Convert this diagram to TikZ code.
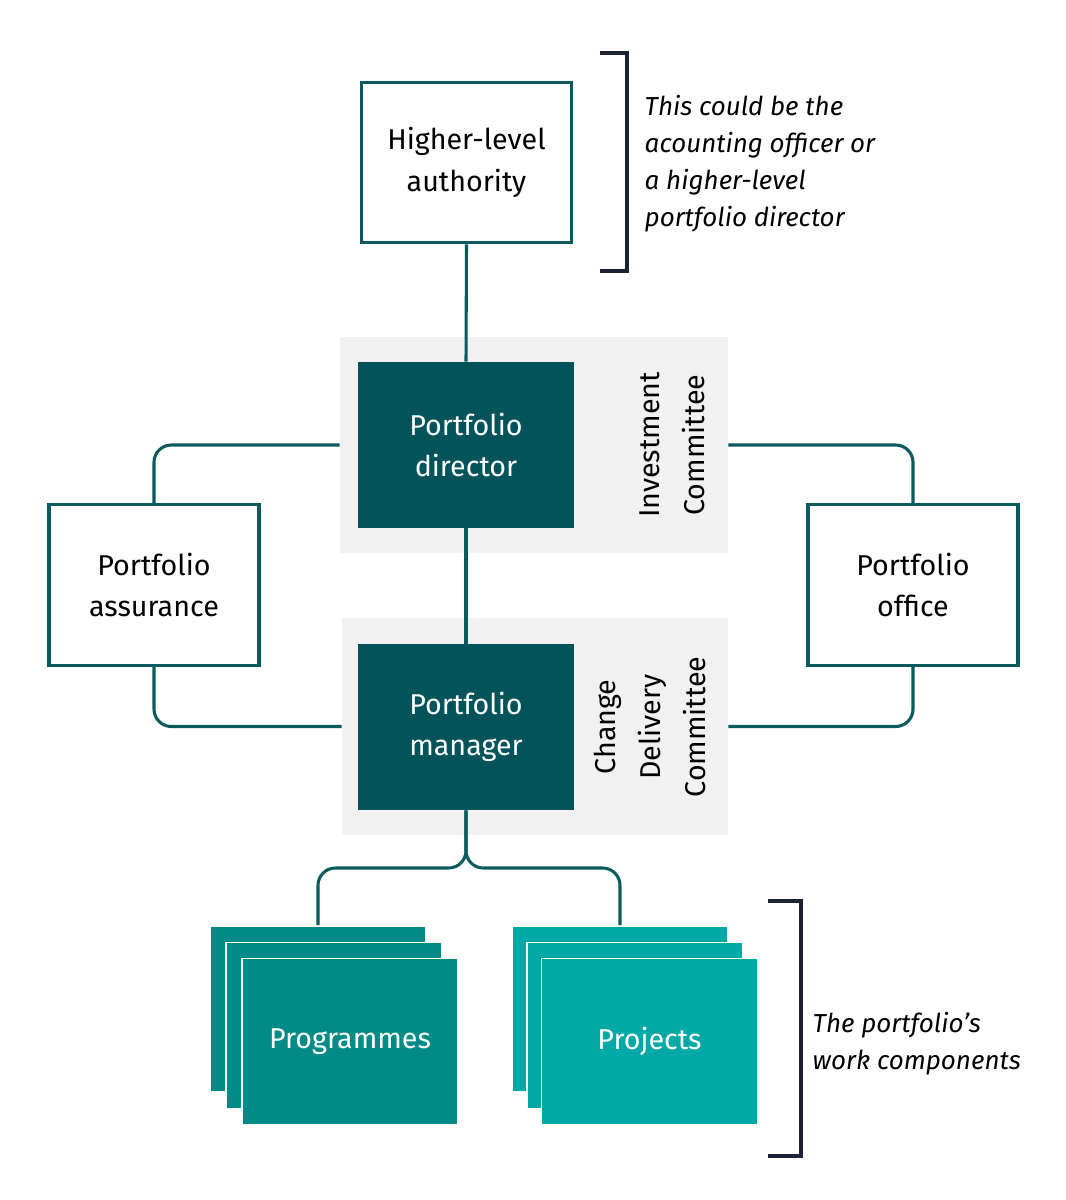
\documentclass[tikz,border=0pt]{standalone}
\usepackage{fontspec}
\setmainfont{Fira Sans}
\definecolor{edge}{HTML}{0B5A5E}
\definecolor{dark}{HTML}{03535A}
\definecolor{prog}{HTML}{018B87}
\definecolor{proj}{HTML}{00A8A6}
\definecolor{navy}{HTML}{1C2334}
\definecolor{grey}{HTML}{F1F1F1}
\begin{document}
\begin{tikzpicture}[x=0.75pt,y=-0.75pt,
  box/.style={draw=edge,line width=2.3pt,fill=white,minimum width=157.5pt,minimum height=120.5pt,inner sep=0,align=center,font=\fontsize{21.5}{31}\selectfont},
  dbox/.style={fill=dark,minimum width=162pt,minimum height=124.5pt,inner sep=0,align=center,text=white,font=\fontsize{21.5}{31}\selectfont},
  gbox/.style={fill=grey,inner sep=0},
  stack/.style={draw=white,line width=1.2pt,minimum width=162pt,minimum height=124.5pt,inner sep=0},
  conn/.style={draw=edge,line width=2.3pt,rounded corners=13pt},
  brk/.style={draw=navy,line width=3pt},
  note/.style={align=left,anchor=west,font=\fontsize{19.5}{27.7}\selectfont\itshape}]
\useasboundingbox (0,0) rectangle (1065,1200);
\node[gbox,minimum width=291pt,minimum height=162pt] (ic) at (534,445) {};
\node[gbox,minimum width=289.5pt,minimum height=163pt] (cdc) at (535,726.5) {};
\node[box] (hla) at (466.5,162.5) {Higher-level\\authority};
\node[dbox] (pd) at (466,445) {Portfolio\\director};
\node[dbox] (pm) at (466,727) {Portfolio\\manager};
\node[rotate=90,align=center,font=\fontsize{21.5}{34}\selectfont] (icl) at (672,445) {Investment\\Committee};
\node[rotate=90,align=center,font=\fontsize{21.5}{34}\selectfont] (cdl) at (650,727) {Change\\Delivery\\Committee};
\node[box] (pa) at (154,585) {Portfolio\\assurance};
\node[box] (po) at (913,585) {Portfolio\\office};
% stacks
\node[stack,fill=prog] (pg1) at (318,1009) {};
\node[stack,fill=prog] (pg2) at (334,1025.5) {};
\node[stack,fill=prog,text=white,font=\fontsize{21.5}{31}\selectfont] (pg3) at (350,1041.5) {Programmes};
\node[stack,fill=proj] (pj1) at (620,1009) {};
\node[stack,fill=proj] (pj2) at (635,1025.5) {};
\node[stack,fill=proj,text=white,font=\fontsize{21.5}{31}\selectfont] (pj3) at (649.5,1041.5) {Projects};
% connectors
\draw[conn] (hla.south) -- (pd.north);
\draw[conn] (pd.south) -- (pm.north);
\draw[conn] (pa.north) |- (ic.west);
\draw[conn] (pa.south) |- (cdc.west);
\draw[conn] (po.north) |- (ic.east);
\draw[conn] (po.south) |- (cdc.east);
\coordinate (sp) at (466,868);
\draw[conn] (pm.south) -- (sp) -| (pg1.north);
\draw[conn] (pm.south) -- (sp) -| (pj1.north);
% brackets
\coordinate (b1a) at (600,53); \coordinate (b1b) at (600,271);
\draw[brk] (b1a) -- ++(27,0) |- (b1b);
\coordinate (b2a) at (768,901); \coordinate (b2b) at (768,1156);
\draw[brk] (b2a) -- ++(33,0) |- (b2b);
\node[note] (n1) at (640,164) {This could be the\\acounting officer or\\a higher-level\\portfolio director};
\node[note] (n2) at (808,1044) {The portfolio’s\\work components};
\end{tikzpicture}
\end{document}
